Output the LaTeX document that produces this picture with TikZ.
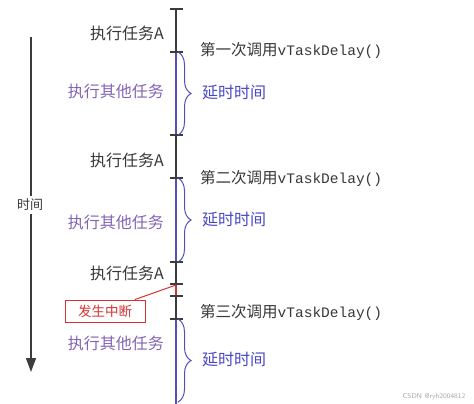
\documentclass[tikz,border=0pt]{standalone}
\usepackage{fontspec}
\newfontfamily\cjk{Noto Sans CJK SC}
\setmonofont{Liberation Mono}
\usetikzlibrary{decorations.pathreplacing,arrows.meta}
\definecolor{axisgray}{RGB}{60,60,60}
\definecolor{txtgray}{RGB}{55,55,55}
\definecolor{othpurple}{RGB}{130,100,180}
\definecolor{delayblue}{RGB}{70,70,200}
\definecolor{bracecol}{RGB}{80,80,190}
\definecolor{intred}{RGB}{215,50,50}
\begin{document}
\begin{tikzpicture}[x=1pt,y=-1pt,
  task/.style={anchor=east,text=txtgray,font=\cjk\fontsize{16}{16}\selectfont,inner sep=0pt},
  call/.style={anchor=west,text=txtgray,font=\cjk\fontsize{15.5}{15.5}\selectfont,inner sep=0pt},
  other/.style={anchor=east,text=othpurple,font=\cjk\fontsize{16}{16}\selectfont,inner sep=0pt},
  delay/.style={anchor=west,text=delayblue,font=\cjk\fontsize{16}{16}\selectfont,inner sep=0pt},
  tick/.style={axisgray,line width=1.1pt},
  axisline/.style={axisgray,line width=1.2pt},
  blueseg/.style={bracecol,line width=1.2pt},
  bracestyle/.style={bracecol,line width=1pt,decorate,decoration={brace,amplitude=13pt}},
]
\useasboundingbox (0,0) rectangle (474,404);
% axis coordinates
\coordinate (t0) at (176,9);
\coordinate (t1) at (176,52);
\coordinate (t2) at (176,135);
\coordinate (t3) at (176,178);
\coordinate (t4) at (176,262);
\coordinate (t5) at (176,284);
\coordinate (t6) at (176,296);
\coordinate (t7) at (176,319);
\coordinate (tb) at (176,404);
% main axis
\draw[axisline] (t0) -- (tb);
\draw[blueseg] (t1) -- (t2);
\draw[blueseg] (t3) -- (t4);
\draw[blueseg] (t7) -- (tb);
\draw[intred,line width=1.2pt] (t5) -- (t6);
% ticks
\foreach \t in {t0,t1,t2,t3,t4,t5,t6,t7}
  \draw[tick] ([xshift=-6pt]\t) -- ([xshift=7pt]\t);
% braces
\draw[bracestyle] ([xshift=2pt]t1) -- ([xshift=2pt]t2);
\draw[bracestyle] ([xshift=2pt]t3) -- ([xshift=2pt]t4);
\draw[bracestyle] ([xshift=2pt]t7) -- ([xshift=2pt]176,402);
% texts
\node[task] (a1) at (164,33) {执行任务A};
\node[call] (c1) at (200,50) {第一次调用{\ttfamily\fontsize{14.5}{14.5}\selectfont vTaskDelay()}};
\node[other] (o1) at (164,91) {执行其他任务};
\node[delay] (d1) at (202,93) {延时时间};
\node[task] (a2) at (164,160) {执行任务A};
\node[call] (c2) at (200,178) {第二次调用{\ttfamily\fontsize{14.5}{14.5}\selectfont vTaskDelay()}};
\node[other] (o2) at (164,222) {执行其他任务};
\node[delay] (d2) at (202,220) {延时时间};
\node[task] (a3) at (164,273) {执行任务A};
\node[call] (c3) at (200,312) {第三次调用{\ttfamily\fontsize{14.5}{14.5}\selectfont vTaskDelay()}};
\node[other] (o3) at (164,343) {执行其他任务};
\node[delay] (d3) at (202,360) {延时时间};
% interrupt
\node[draw=intred,line width=0.9pt,text=intred,font=\cjk\fontsize{13.5}{13.5}\selectfont,
      minimum width=80pt,minimum height=22pt,inner sep=0pt] (irq) at (105,311) {发生中断};
\draw[intred,line width=1pt] (irq.21) -- ([yshift=-1pt]t5);
% time arrow
\coordinate (ttop) at (31,37);
\coordinate (tbot) at (31,372);
\draw[axisgray,line width=1.3pt,-{Triangle[length=14pt,width=10pt]}] (ttop) -- (tbot);
\node[fill=white,text=txtgray,font=\cjk\fontsize{13}{13}\selectfont,inner xsep=1pt,inner ysep=3pt] (tl) at (30,205) {时间};
% watermark
\node[text=black!35,font=\sffamily\fontsize{7}{7}\selectfont,inner sep=0pt] (wm) at (434,397) {CSDN @ryh2004812};
\end{tikzpicture}
\end{document}
